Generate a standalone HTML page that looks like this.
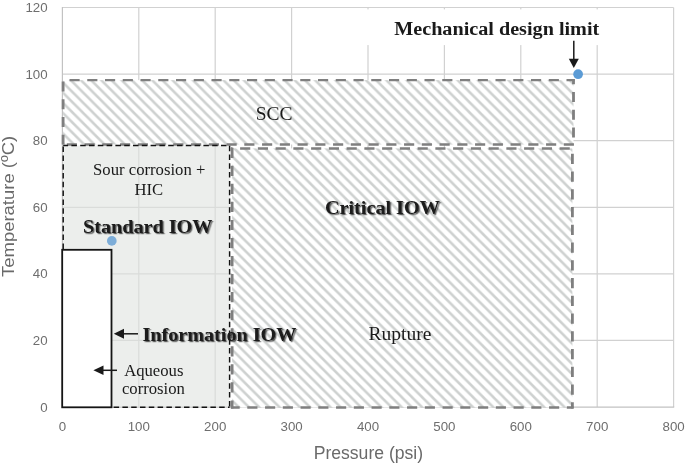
<!DOCTYPE html>
<html><head><meta charset="utf-8"><title>IOW chart</title>
<style>
html,body{margin:0;padding:0;background:#fff;}
svg{display:block;}
.tick{font-family:"Liberation Sans",Arial,sans-serif;font-size:13.3px;fill:#6e6e6e;}
.title{font-family:"Liberation Sans",Arial,sans-serif;font-size:17.6px;fill:#6a6a6a;}
.t{font-family:"Liberation Serif","Times New Roman",serif;font-size:16.7px;fill:#1a1a1a;}
.b{font-family:"Liberation Serif","Times New Roman",serif;font-size:19.6px;font-weight:bold;fill:#1a1a1a;}
</style></head>
<body>
<svg width="685" height="466" viewBox="0 0 685 466">
<defs>
<pattern id="hatch" patternUnits="userSpaceOnUse" x="0.8" y="0" width="10.18" height="10.18">
<rect width="10.18" height="10.18" fill="#fff"/>
<path d="M-10.18,-10.18 L20.36,20.36 M0,-10.18 L30.54,20.36 M-20.36,-10.18 L10.18,20.36" stroke="#ced1d0" stroke-width="2.55" fill="none"/>
</pattern>
<pattern id="hatch2" patternUnits="userSpaceOnUse" x="4.6" y="0" width="10.18" height="10.18">
<rect width="10.18" height="10.18" fill="#fff"/>
<path d="M-10.18,-10.18 L20.36,20.36 M0,-10.18 L30.54,20.36 M-20.36,-10.18 L10.18,20.36" stroke="#ced1d0" stroke-width="2.55" fill="none"/>
</pattern>
<filter id="sh" x="-10%" y="-30%" width="120%" height="170%">
<feDropShadow dx="1.3" dy="1.2" stdDeviation="0.5" flood-color="#000" flood-opacity="0.6"/>
</filter>
</defs>
<rect width="685" height="466" fill="#fff"/>

<!-- gridlines -->
<g stroke="#d1d1d1" stroke-width="1.2" fill="none">
<path d="M62.4,7.5H673.6 M62.4,74.2H673.6 M62.4,140.7H673.6 M62.4,207.3H673.6 M62.4,273.8H673.6 M62.4,340.4H673.6"/>
<path d="M138.8,7.5V407 M215.2,7.5V407 M291.6,7.5V407 M368.0,7.5V407 M444.4,7.5V407 M520.8,7.5V407 M597.2,7.5V407 M673.6,7.5V407"/>
<path d="M61.8,407.1H674.2 M62.4,7V407.6" stroke="#c2c2c2"/>
</g>
<!-- hatched regions -->
<rect x="63.1" y="80.1" width="510.4" height="64.4" fill="url(#hatch)"/>
<rect x="232.1" y="148.4" width="340.3" height="259.1" fill="url(#hatch2)"/>
<!-- standard IOW fill -->
<rect x="63.2" y="145.5" width="166.4" height="261.7" fill="#dfe3df" fill-opacity="0.6"/>

<!-- white label box -->
<rect x="357" y="9.4" width="280" height="35.7" fill="#fff"/>

<!-- dashed borders -->
<g fill="none" stroke="#7f7f7f" stroke-width="2.45" stroke-dasharray="10.15 7.6">
<path d="M62,80.1H574.6" stroke-dashoffset="10.25"/>
<path d="M63.1,80.1V144.5" stroke-dashoffset="16.45" stroke-width="2.8"/>
<path d="M573.5,79V144.5" stroke-dashoffset="4.85" stroke-width="2.8"/>
<path d="M62,144.5H574.6" stroke-dashoffset="12.95"/>
<path d="M231,148.4H573.5" stroke-dashoffset="8.65"/>
<path d="M572.4,147.3V408.6" stroke-dashoffset="11.25" stroke-width="2.8"/>
<path d="M232.1,147.3V408.6" stroke-dasharray="10.2 7.85" stroke-dashoffset="17.65" stroke-width="2.8"/>
<path d="M231,407.5H573.5" stroke-dashoffset="1.45"/>
</g>
<g fill="none" stroke="#111" stroke-width="1.45" stroke-dasharray="5.5 3.3">
<path d="M63.2,145.5H229.6V407.3" stroke-dashoffset="0.6"/>
<path d="M229.6,407.3H63.2" stroke-dashoffset="3.9"/>
<path d="M63.2,407.3V145.5"/>
</g>
<!-- white rect -->
<rect x="62.2" y="249.8" width="49.3" height="157.5" fill="#fff" stroke="#151515" stroke-width="1.8"/>

<!-- points -->
<circle cx="111.8" cy="240.9" r="4.85" fill="#7dadd8"/>
<circle cx="578.1" cy="74.2" r="4.85" fill="#5b9bd5"/>

<!-- arrows -->
<g stroke="#1a1a1a" stroke-width="1.5" fill="#1a1a1a">
<path d="M573.8,40.8V60" fill="none"/><path d="M568.8,58.8H578.8L573.8,68Z" stroke="none"/>
<path d="M138,333.8H123" fill="none"/><path d="M124,328.8V338.8L113.8,333.8Z" stroke="none"/>
<path d="M117,370.3H102.5" fill="none"/><path d="M103.5,365.5V375.1L93.4,370.3Z" stroke="none"/>
</g>

<!-- text -->
<text class="b" transform="translate(394.2,34.5) scale(1.03,1)">Mechanical design limit</text>
<text class="t" x="274.2" y="119.9" text-anchor="middle" style="font-size:19.5px">SCC</text>
<text class="t" x="149.2" y="175.4" text-anchor="middle">Sour corrosion +</text>
<text class="t" x="148.8" y="194.6" text-anchor="middle">HIC</text>
<text class="b" transform="translate(83,233.2) scale(1.03,1)" filter="url(#sh)">Standard IOW</text>
<text class="b" transform="translate(325,214.1) scale(1.03,1)" filter="url(#sh)">Critical IOW</text>
<text class="b" transform="translate(142.4,340.6) scale(1.03,1)" filter="url(#sh)">Information IOW</text>
<text class="t" x="400" y="340.1" text-anchor="middle" style="font-size:19.5px">Rupture</text>
<text class="t" x="153.8" y="375.5" text-anchor="middle">Aqueous</text>
<text class="t" x="153.4" y="394.2" text-anchor="middle">corrosion</text>

<!-- ticks -->
<g class="tick" text-anchor="end">
<text x="47.6" y="12">120</text><text x="47.6" y="78.6">100</text><text x="47.6" y="145.2">80</text><text x="47.6" y="211.8">60</text><text x="47.6" y="278.3">40</text><text x="47.6" y="344.9">20</text><text x="47.6" y="411.5">0</text>
</g>
<g class="tick" text-anchor="middle">
<text x="62.4" y="430.6">0</text><text x="138.8" y="430.6">100</text><text x="215.2" y="430.6">200</text><text x="291.6" y="430.6">300</text><text x="368.0" y="430.6">400</text><text x="444.4" y="430.6">500</text><text x="520.8" y="430.6">600</text><text x="597.2" y="430.6">700</text><text x="673.6" y="430.6">800</text>
</g>
<text class="title" x="368.4" y="459.1" text-anchor="middle">Pressure (psi)</text>
<text class="title" transform="translate(13.6,206.4) rotate(-90)" text-anchor="middle" textLength="141" lengthAdjust="spacingAndGlyphs" style="font-size:17px">Temperature (ºC)</text>
</svg>
</body></html>
